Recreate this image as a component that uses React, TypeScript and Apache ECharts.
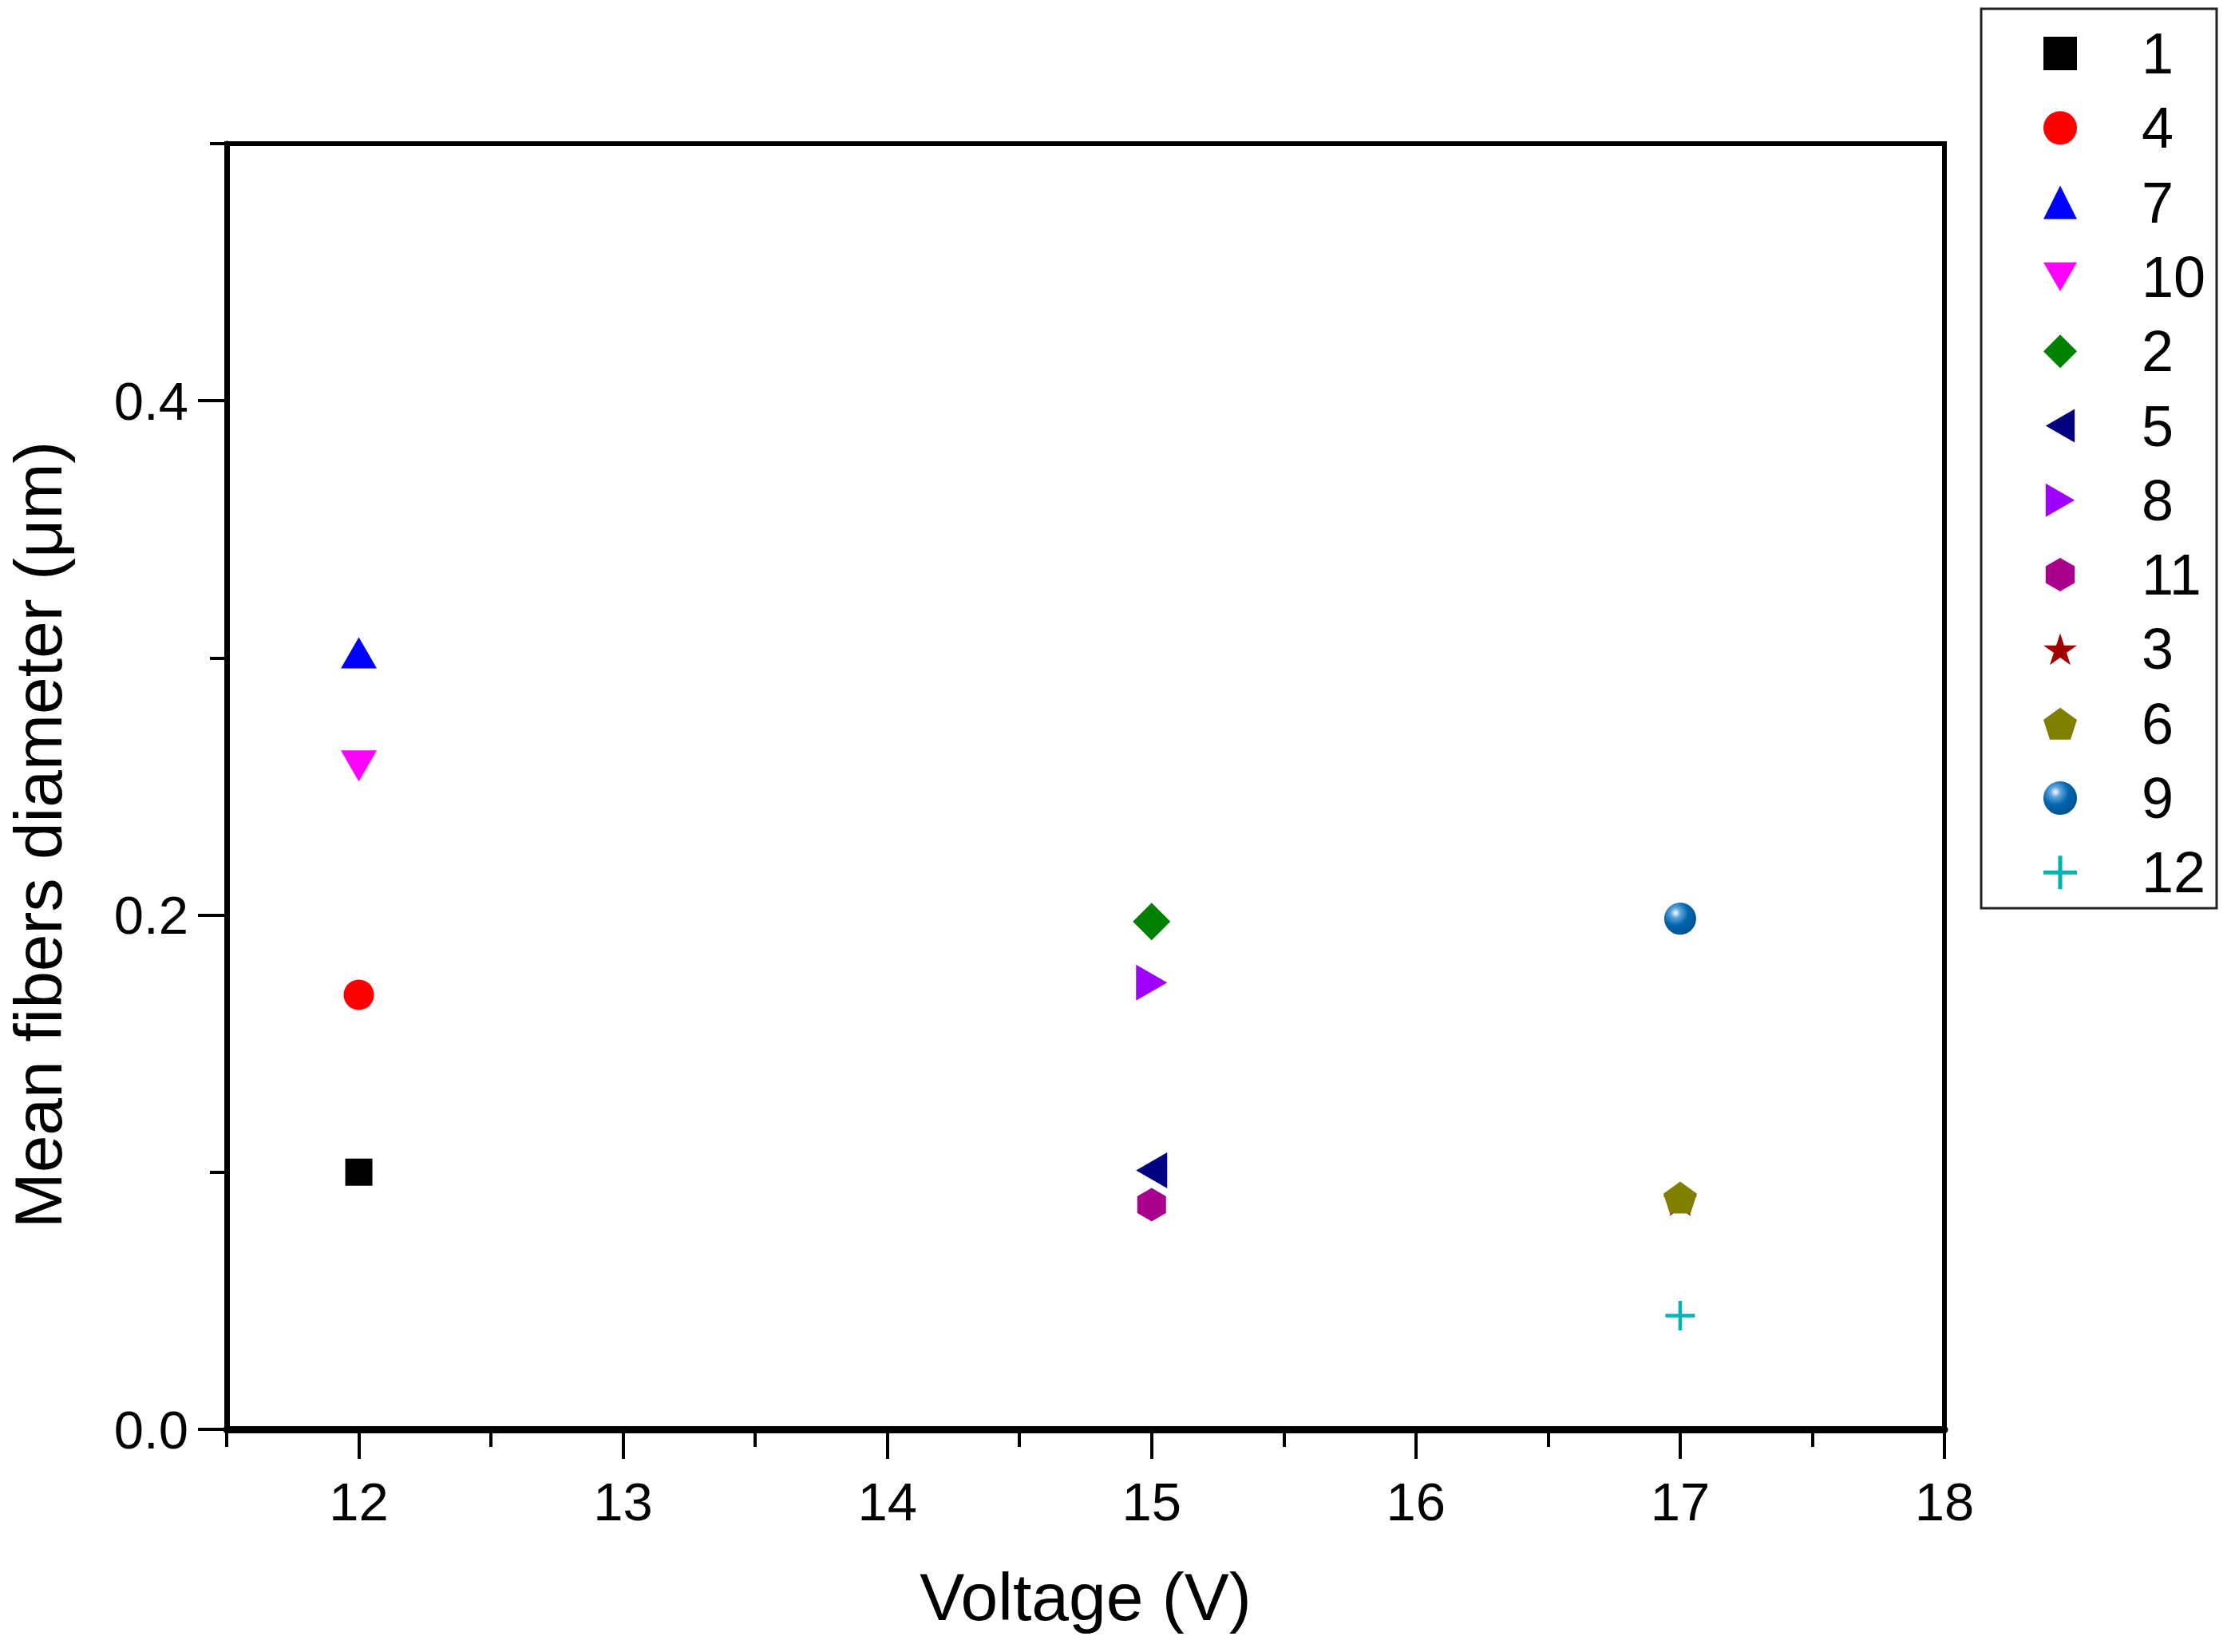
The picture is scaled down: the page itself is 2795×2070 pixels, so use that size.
import React, { useEffect, useRef } from "react";
import * as echarts from "echarts";

// ---- data ----
const seriesNames = ["1", "4", "7", "10", "2", "5", "8", "11", "3", "6", "9", "12"];
const voltages = [12, 12, 12, 12, 15, 15, 15, 15, 17, 17, 17, 17];
const diameters = [0.1, 0.169, 0.302, 0.258, 0.1975, 0.1007, 0.1737, 0.0874, 0.0893, 0.0902, 0.1986, 0.0442];
const xMajorTicks = [12, 13, 14, 15, 16, 17, 18];
const xMinorTicks = [11.5, 12.5, 13.5, 14.5, 15.5, 16.5, 17.5];
const yMajorTicks = [0, 0.2, 0.4];
const yMinorTicks = [0.1, 0.3, 0.5];
const xAxisTitle = "Voltage (V)";
const yAxisTitle = "Mean fibers diameter (\u03bcm)";

// ---- styles ----
const FONT = '"Liberation Sans", Arial, sans-serif';
const symbols = [
  "rect",
  "circle",
  "triangle",
  "path://M0,0L2,0L1,1.732Z",
  "diamond",
  "path://M0,1L1.732,0L1.732,2Z",
  "path://M0,0L1.732,1L0,2Z",
  "path://M0.866,0L1.732,0.5L1.732,1.5L0.866,2L0,1.5L0,0.5Z",
  "path://M1,0L1.2245,0.691L1.951,0.691L1.363,1.118L1.588,1.809L1,1.382L0.412,1.809L0.637,1.118L0.049,0.691L0.7755,0.691Z",
  "path://M1,0L1.951,0.691L1.588,1.809L0.412,1.809L0.049,0.691Z",
  "circle",
  "path://M0.44,0H0.56V0.44H1V0.56H0.56V1H0.44V0.56H0V0.44H0.44Z",
];
const symbolSizes: any[] = [
  [34, 34],
  [38, 38],
  [45, 39],
  [45, 39],
  [47, 47],
  [39, 45],
  [39, 45],
  [36, 42],
  [43, 41],
  [42, 40],
  [40, 40],
  [37, 37],
];
const ballGradient = new echarts.graphic.RadialGradient(0.36, 0.32, 0.72, [
  { offset: 0, color: "#ffffff" },
  { offset: 0.22, color: "#5aa3dc" },
  { offset: 0.55, color: "#0064ac" },
  { offset: 1, color: "#00528f" },
]);
const colors: any[] = [
  "#000000",
  "#ff0000",
  "#0000ff",
  "#ff00ff",
  "#008000",
  "#000080",
  "#a000ff",
  "#a8008c",
  "#a00000",
  "#808000",
  ballGradient,
  "#00b4b4",
];

export default function App() {
  const ref = useRef<HTMLDivElement>(null);
  useEffect(() => {
    document.body.style.margin = "0";
    if (!ref.current) return;
    const chart = echarts.init(ref.current, null, { renderer: "svg" });
    const series = seriesNames.map((name, i) => ({
      type: "scatter",
      name,
      xAxisIndex: 0,
      yAxisIndex: 0,
      data: [[voltages[i], diameters[i]]],
      symbol: symbols[i],
      symbolSize: symbolSizes[i],
      itemStyle: { color: colors[i], opacity: 1 },
      emphasis: { disabled: true },
    }));
    const option: any = {
      animation: false,
      backgroundColor: "#ffffff",
      grid: {
        left: 284,
        right: 359,
        top: 180,
        bottom: 279,
        show: true,
        borderColor: "#000",
        borderWidth: 6,
        containLabel: false,
      },
      xAxis: [
        {
          type: "value",
          min: 11.5,
          max: 18,
          position: "bottom",
          name: xAxisTitle,
          nameLocation: "middle",
          nameGap: 168,
          nameTextStyle: { fontSize: 84, fontFamily: FONT, color: "#000" },
          axisLine: { show: true, onZero: false, lineStyle: { color: "#000", width: 9 } },
          axisTick: { show: true, inside: false, customValues: xMajorTicks, length: 37, lineStyle: { color: "#000", width: 4 } },
          axisLabel: {
            show: true,
            customValues: xMajorTicks,
            margin: 57,
            fontSize: 67,
            fontFamily: FONT,
            color: "#000",
            formatter: (v: number) => String(v),
          },
          splitLine: { show: false },
        },
        {
          type: "value",
          min: 11.5,
          max: 18,
          position: "bottom",
          axisLine: { show: false, onZero: false },
          axisTick: { show: true, inside: false, customValues: xMinorTicks, length: 22, lineStyle: { color: "#000", width: 4 } },
          axisLabel: { show: false },
          splitLine: { show: false },
        },
      ],
      yAxis: [
        {
          type: "value",
          min: 0,
          max: 0.5,
          position: "left",
          axisLine: { show: true, onZero: false, lineStyle: { color: "#000", width: 7 } },
          axisTick: { show: true, inside: false, customValues: yMajorTicks, length: 36, lineStyle: { color: "#000", width: 4 } },
          axisLabel: {
            show: true,
            customValues: yMajorTicks,
            margin: 48,
            fontSize: 67,
            fontFamily: FONT,
            color: "#000",
            formatter: (v: number) => v.toFixed(1),
          },
          splitLine: { show: false },
        },
        {
          type: "value",
          min: 0,
          max: 0.5,
          position: "left",
          axisLine: { show: false, onZero: false },
          axisTick: { show: true, inside: false, customValues: yMinorTicks, length: 21, lineStyle: { color: "#000", width: 4 } },
          axisLabel: { show: false },
          splitLine: { show: false },
        },
      ],
      legend: {
        show: true,
        orient: "vertical",
        left: 2560,
        top: 31,
        padding: 0,
        itemWidth: 42,
        itemHeight: 42,
        itemGap: 21.3,
        selectedMode: false,
        data: seriesNames,
        textStyle: {
          fontSize: 72,
          fontFamily: FONT,
          color: "#000",
          padding: [0, 0, 0, 76],
        },
      },
      graphic: [
        {
          type: "rect",
          shape: { x: 2482, y: 11, width: 295, height: 1127 },
          style: { fill: "none", stroke: "#222", lineWidth: 3 },
          z: 10,
        },
        {
          type: "text",
          x: 48,
          y: 1046,
          rotation: Math.PI / 2,
          style: {
            text: yAxisTitle,
            fontSize: 84,
            fontFamily: FONT,
            fill: "#000",
            align: "center",
            verticalAlign: "middle",
          },
          z: 10,
        },
      ],
      series,
    };
    chart.setOption(option);
    return () => chart.dispose();
  }, []);
  return <div ref={ref} style={{ width: 2795, height: 2070 }} />;
}
